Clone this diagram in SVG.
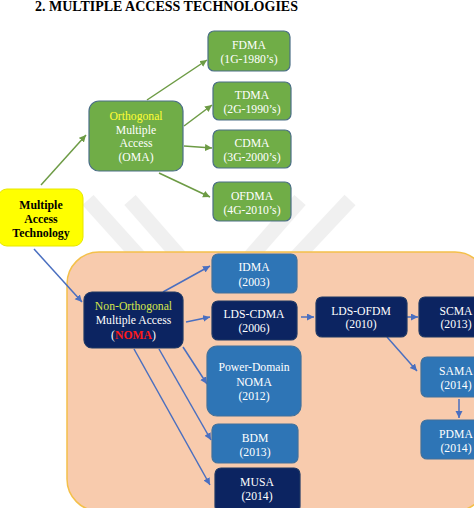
<svg xmlns="http://www.w3.org/2000/svg" width="474" height="508" viewBox="0 0 474 508">
<style>
.t{font-family:"Liberation Serif","Times New Roman",serif;font-size:11.7px;fill:#ffffff;text-anchor:middle}
.b{font-family:"Liberation Serif","Times New Roman",serif;font-size:11.8px;font-weight:bold;fill:#000000;text-anchor:middle}
.g{fill:#70ad47;stroke:#4b6f86;stroke-width:1.2}
.bl{fill:#2e75b6;stroke:#41719c;stroke-width:1.2}
.nv{fill:#0c2461;stroke:#1f3864;stroke-width:1.2}
.cg{stroke:#6d9b45;stroke-width:1.5;fill:none;marker-end:url(#ag)}
.cb{stroke:#4a6fc0;stroke-width:1.5;fill:none;marker-end:url(#ab)}
.wm{stroke:#f0f0f0;stroke-width:15;fill:none}
</style>
<defs>
<marker id="ag" markerUnits="userSpaceOnUse" markerWidth="8" markerHeight="8" refX="7" refY="3.5" orient="auto"><path d="M0,0 L7,3.5 L0,7 z" fill="#6d9b45"/></marker>
<marker id="ab" markerUnits="userSpaceOnUse" markerWidth="8" markerHeight="8" refX="7" refY="3.5" orient="auto"><path d="M0,0 L7,3.5 L0,7 z" fill="#4a6fc0"/></marker>
</defs>
<rect width="474" height="508" fill="#ffffff"/>
<g id="watermark">
<path class="wm" d="M88,200 L160,280"/>
<path class="wm" d="M130,200 L200,280"/>
<path class="wm" d="M300,200 L230,280"/>
<path class="wm" d="M350,200 L275,280"/>
</g>
<text x="35" y="11" font-family="Liberation Serif,'Times New Roman',serif" font-size="14" font-weight="bold" fill="#000">2. MULTIPLE ACCESS TECHNOLOGIES</text>
<g id="noma-region"><rect x="67" y="252" width="420" height="259" rx="32" fill="#f8cbad" stroke="#f4c04a" stroke-width="1.5"/></g>
<g id="connectors">
<path class="cg" d="M41,185 L86,135"/>
<path class="cg" d="M147,100 L207,60"/>
<path class="cg" d="M184,126 L212,105"/>
<path class="cg" d="M184,146 L212,148"/>
<path class="cg" d="M159,173 L210,197"/>
<path class="cb" d="M34,249 L82,302"/>
<path class="cb" d="M163,292 L210,266"/>
<path class="cb" d="M186,322 L210,317"/>
<path class="cb" d="M183,347 L207,384"/>
<path class="cb" d="M159,349 L211,440"/>
<path class="cb" d="M134,349 L210,485"/>
<path class="cb" d="M301,317 L314,317"/>
<path class="cb" d="M407,317 L418,317"/>
<path class="cb" d="M387,337 L417,371"/>
<path class="cb" d="M459,399 L459,418"/>
</g>
<g id="mat"><rect x="-2" y="189" width="85" height="57" rx="9" fill="#ffff00" stroke="#e6e600" stroke-width="1"/>
<text class="b" x="41" y="209">Multiple</text><text class="b" x="41" y="223">Access</text><text class="b" x="41" y="237">Technology</text></g>
<g id="oma"><rect class="g" x="89" y="101" width="94" height="70" rx="10"/>
<text class="t" x="136" y="120" style="fill:#ffff33">Orthogonal</text><text class="t" x="136" y="134">Multiple</text><text class="t" x="136" y="147">Access</text><text class="t" x="136" y="161">(OMA)</text></g>
<g id="fdma"><rect class="g" x="208" y="31" width="82" height="40" rx="6"/><text class="t" x="249" y="49">FDMA</text><text class="t" x="249" y="63">(1G-1980’s)</text></g>
<g id="tdma"><rect class="g" x="213" y="82" width="78" height="38" rx="6"/><text class="t" x="252" y="99">TDMA</text><text class="t" x="252" y="113">(2G-1990’s)</text></g>
<g id="cdma"><rect class="g" x="213" y="130" width="78" height="38" rx="6"/><text class="t" x="252" y="147">CDMA</text><text class="t" x="252" y="161">(3G-2000’s)</text></g>
<g id="ofdma"><rect class="g" x="213" y="182" width="78" height="39" rx="6"/><text class="t" x="252" y="200">OFDMA</text><text class="t" x="252" y="214">(4G-2010’s)</text></g>
<g id="noma"><rect class="nv" x="84" y="292" width="99" height="56" rx="8"/>
<text class="t" x="133.5" y="310" style="fill:#d6e64a">Non-Orthogonal</text><text class="t" x="133.5" y="324">Multiple Access</text><text class="t" x="133.5" y="339">(<tspan fill="#ff1a1a" font-weight="bold">NOMA</tspan>)</text></g>
<g id="idma"><rect class="bl" x="212" y="254" width="85" height="39" rx="6"/><text class="t" x="254" y="271">IDMA</text><text class="t" x="254" y="286">(2003)</text></g>
<g id="ldscdma"><rect class="nv" x="212" y="301" width="85" height="39" rx="6"/><text class="t" x="254" y="318">LDS-CDMA</text><text class="t" x="254" y="332">(2006)</text></g>
<g id="pdnoma"><rect class="bl" x="207" y="346" width="94" height="70" rx="10"/><text class="t" x="254" y="371">Power-Domain</text><text class="t" x="254" y="386">NOMA</text><text class="t" x="254" y="400">(2012)</text></g>
<g id="bdm"><rect class="bl" x="212" y="424" width="86" height="39" rx="6"/><text class="t" x="255" y="442">BDM</text><text class="t" x="255" y="456">(2013)</text></g>
<g id="musa"><rect class="nv" x="215" y="468" width="85" height="44" rx="6"/><text class="t" x="257" y="486">MUSA</text><text class="t" x="257" y="500">(2014)</text></g>
<g id="ldsofdm"><rect class="nv" x="316" y="297" width="91" height="40" rx="6"/><text class="t" x="361" y="315">LDS-OFDM</text><text class="t" x="361" y="328">(2010)</text></g>
<g id="scma"><rect class="nv" x="419" y="297" width="76" height="40" rx="6"/><text class="t" x="456" y="315">SCMA</text><text class="t" x="456" y="328">(2013)</text></g>
<g id="sama"><rect class="bl" x="421" y="357" width="74" height="40" rx="6"/><text class="t" x="456" y="375">SAMA</text><text class="t" x="456" y="389">(2014)</text></g>
<g id="pdma"><rect class="bl" x="421" y="420" width="74" height="39" rx="6"/><text class="t" x="456" y="438">PDMA</text><text class="t" x="456" y="452">(2014)</text></g>
</svg>
